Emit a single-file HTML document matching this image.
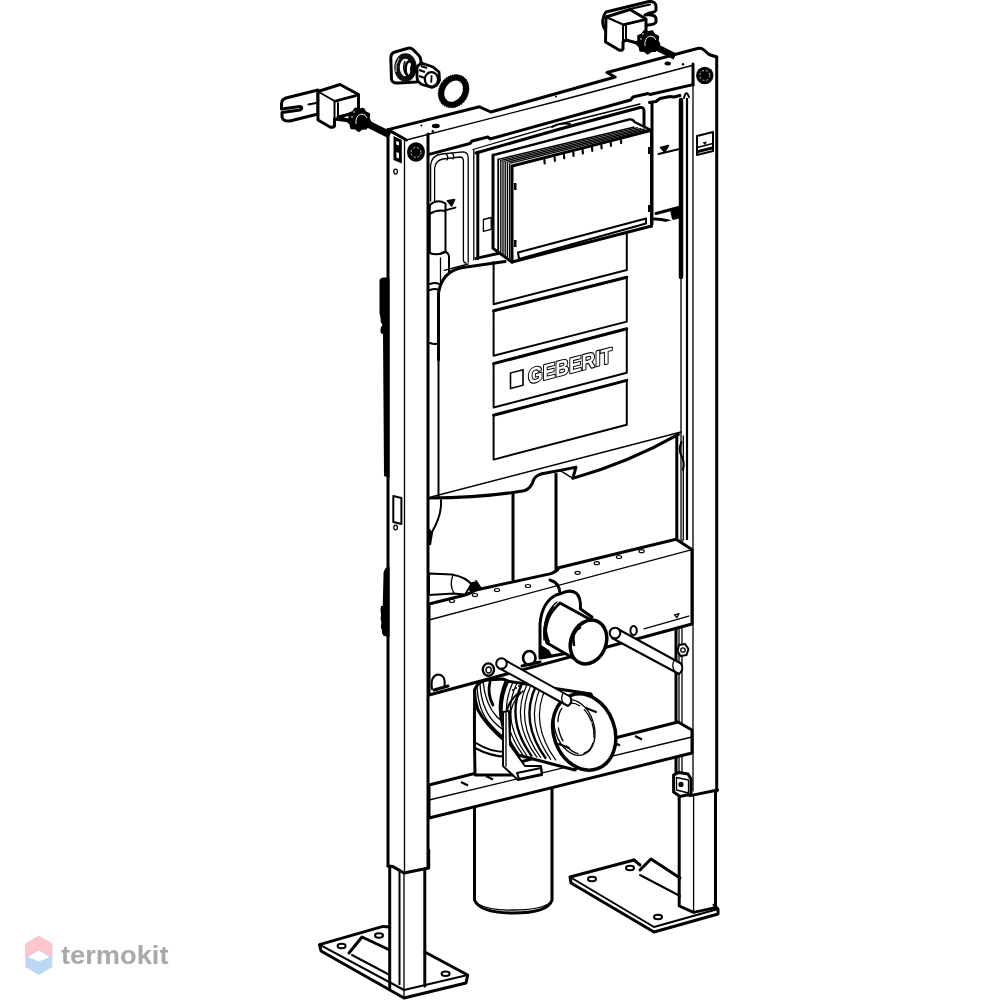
<!DOCTYPE html>
<html><head><meta charset="utf-8">
<style>
html,body{margin:0;padding:0;background:#fff;width:1000px;height:1000px;overflow:hidden}
svg{display:block;will-change:transform}
.k{stroke:#000;fill:none;stroke-linejoin:round;stroke-linecap:round}
.w{stroke:#000;fill:#fff;stroke-linejoin:round;stroke-linecap:round}
.t{stroke-width:1.3}
.m{stroke-width:2}
.b{stroke-width:3}
</style></head>
<body>
<svg width="1000" height="1000" viewBox="0 0 1000 1000">
<g opacity="0.995">
<polygon points="38.8,935.8 52.3,943.5 52.3,967 38.8,974.9 25.3,967 25.3,943.5" fill="#bcd6f6"/>
<polygon points="38.8,935.8 52.3,943.5 52.3,957 38.8,950.6 25.3,957 25.3,943.5" fill="#fcc6cc"/>
<polygon points="38.8,950.6 49.6,957 38.8,961.5 28,957" fill="#fff"/>
<text x="61" y="963.8" font-family="Liberation Sans" font-weight="bold" font-size="25.5" fill="#a9a9a9" textLength="107.5" lengthAdjust="spacingAndGlyphs">termokit</text>
</g>
<!-- left slotted plate -->
<path class="w b" d="M318,90 L286,98 Q281.5,99.5 281.5,104 L281.5,109 L300,106.5 Q303.5,107.5 300,110 L282,112.5 L282,117 Q283,121.5 290,121 L318,114 Z"/>
<path class="k m" d="M308.5,104.5 L316,103"/>
<!-- left clip box -->
<path class="w b" d="M318,91.5 L340,84.5 L358.5,94.5 L358.5,112 L338,117 L350,121 L334.5,119 L334.5,126 Q333,128 330,127 L318,120 Z"/>
<path class="k m" d="M318,91.5 L334.5,101 L358.5,94.5 M334.5,101 L334.5,126 M338,103 L338,117 L352,121.5 M335,101.5 L356,96"/>
<!-- left nut -->
<path fill="#000" stroke="#000" stroke-width="2.5" stroke-linejoin="round" d="M370.1,121.7 L367.1,124.5 L366.0,128.3 L362.0,128.5 L358.7,130.8 L355.5,128.3 L351.5,128.0 L350.7,124.0 L347.8,121.2 L349.7,117.6 L349.4,113.6 L353.1,112.1 L355.4,108.8 L359.2,110.0 L363.1,109.0 L365.3,112.4 L368.9,114.1 L368.4,118.1 Z"/>
<path d="M356,124 Q355,116 361,114 Q366,114 367,118" fill="none" stroke="#fff" stroke-width="0.9"/>
<circle cx="352" cy="117" r="0.8" fill="#fff"/><circle cx="354" cy="112" r="0.8" fill="#fff"/>
<!-- right plate -->
<path class="w b" d="M606,12 L649,1.5 Q656,1 656,7 L656,10 Q655,12.5 649,13 L645,15 Q656,14 656,19 L656,22 Q655,24.5 648,25 L636,28 L606,31 Q601.5,25 603,19 Q604,14 606,12 Z"/>
<path class="k m" d="M630,9 L650,4.5"/>
<!-- right clip box -->
<path class="w b" d="M606,17 L630,9.5 L646,19 L646,31 L637,43 L626,40 L623,42 L623,49 Q622,51 619,50 L605.5,42 Z"/>
<path class="k m" d="M606,17 L623,24.5 L646,19 M623,24.5 L623,49 M626,26 L626,40 L637,43 M624,25 L645,20"/>
<!-- right nut -->
<path fill="#000" stroke="#000" stroke-width="2.5" stroke-linejoin="round" d="M659.1,44.2 L656.1,47.0 L655.0,50.8 L651.0,51.0 L647.7,53.3 L644.5,50.8 L640.5,50.5 L639.7,46.5 L636.8,43.7 L638.7,40.1 L638.4,36.1 L642.1,34.6 L644.4,31.3 L648.2,32.5 L652.1,31.5 L654.3,34.9 L657.9,36.6 L657.4,40.6 Z"/>
<path d="M645,46 Q644,38 650,36 Q655,36 656,40" fill="none" stroke="#fff" stroke-width="0.9"/>
<circle cx="641" cy="39" r="0.8" fill="#fff"/><circle cx="643" cy="34" r="0.8" fill="#fff"/>
<!-- knob -->
<path fill="#fff" stroke="#000" stroke-width="3" stroke-linejoin="round" d="M390.8,58 Q390.8,53 395,52 L408,48.3 Q411,47.6 413,49.5 L418.5,55 Q421,57.5 421,61 L420.5,76 Q420,81 416,82 L398,83 Q393,83.5 391.5,80 Z"/>
<ellipse cx="405.5" cy="67.5" rx="8.5" ry="11.5" fill="#fff" stroke="#111" stroke-width="5.5"/>
<path d="M396,72 Q395,64 399,58" fill="none" stroke="#fff" stroke-width="0.8"/>
<ellipse cx="410" cy="69" rx="4.5" ry="8" fill="none" stroke="#000" stroke-width="2.5"/>
<path d="M413,63 Q409,69 413,76" fill="none" stroke="#000" stroke-width="2"/>
<path d="M405,61 Q402,68 406,75" fill="none" stroke="#000" stroke-width="1.5"/>
<path fill="#fff" stroke="#000" stroke-width="2.8" stroke-linejoin="round" d="M417,68 Q418,64 423,63.5 L433,67 L439,72 L439.5,80 Q438,86 432,87.5 L422,84.5 Q417,82 417,77 Z"/>
<path d="M419,70 L425,72 M419,76 L425,78 M421,66 L427,68" fill="none" stroke="#000" stroke-width="2.2"/>
<ellipse cx="431.4" cy="79.3" rx="6.6" ry="7.2" fill="#fff" stroke="#000" stroke-width="2.2"/>
<line x1="431.6" y1="75.3" x2="431.2" y2="82.6" stroke="#000" stroke-width="1.8"/>
<!-- ring -->
<ellipse cx="453.6" cy="91.2" rx="11.6" ry="14.3" transform="rotate(32 453.6 91.2)" fill="none" stroke="#000" stroke-width="6"/>
<ellipse cx="453.6" cy="91.2" rx="14.6" ry="17.3" transform="rotate(32 453.6 91.2)" fill="none" stroke="#000" stroke-width="1" stroke-dasharray="1 1.2"/>
<!-- threaded rods -->
<line x1="361" y1="120.5" x2="390" y2="135" stroke="#000" stroke-width="7"/>
<line x1="650" y1="44" x2="675" y2="56.5" stroke="#000" stroke-width="6.5"/>
<!-- ===== top crossbar ===== -->
<path class="k b" d="M388,129.6 L479.6,106.8 L490.8,112 L615.2,77 L607,72.5 L698.5,48.2 Q702,48 704,50 L709,54.5 L716.7,57"/>
<path class="k b" d="M388,129.6 L406.4,140"/>
<path class="k t" d="M406.4,140 L560,100.5 L692,65.5"/>
<ellipse cx="435.8" cy="126" rx="4" ry="2.2" fill="#000"/>
<circle cx="432.8" cy="131.4" r="1.3" fill="#000"/>
<circle cx="421.4" cy="125.4" r="1" fill="#000"/>
<ellipse cx="667.7" cy="63.6" rx="3.2" ry="2" fill="#000"/>
<circle cx="683" cy="64.3" r="1.2" fill="#000"/>
<circle cx="556" cy="96.5" r="1" fill="#000"/>
<!-- crossbar front-face bottom edge w/ tab -->
<path class="k b" d="M429,154.4 L470,143.5 L472,141 L488,137 L490,139 L630.6,100 L633,97 L648,93.5 L650,94.5 L693,84.6"/>
<!-- frame strip under crossbar -->
<path class="k t" d="M473,149.5 L560,124 L640,104"/>
<path class="k b" d="M476,153 L560,129 L640,107.5 Q644,107 644,111 L644,130"/>
<path class="k m" d="M552,127 Q560,122 570,124"/>
<!-- left compartment -->
<path class="k t" d="M430.6,201 L430.6,165 Q432,155 442,154 L463,151.8 Q468.2,152 468.2,158 L468.2,262"/>
<path class="k t" d="M434.6,201 L434.6,168 Q436,160 443,159 L460,157 Q463.4,157 463.4,161 L463.4,260 Q463.5,263 466,263"/>
<path class="k t" d="M446,153.5 Q449,157 447,160 M452,153 Q455,156 453,159"/>
<path class="w m" d="M429.8,205 Q437,198.5 445.5,203.5 L445.5,252 Q437,256 429.8,253 Z"/>
<path class="k m" d="M429.8,214 Q437,209 445.5,211"/>
<path class="k m" d="M440,254 Q447,249 449,256 L449,279"/>
<path class="k t" d="M440.5,258 L440.5,283"/>
<path fill="#000" stroke="#000" stroke-width="1.5" stroke-linejoin="round" d="M447.4,200.8 L454.6,199.6 L451.6,206 Z"/>
<path class="k m" d="M445,210.4 L455.4,207.6"/>
<!-- cistern opening frame -->
<path class="k t" d="M473.8,150 L473.8,260"/>
<path class="k b" d="M477.8,152 L477.8,258.4"/>
<path class="k b" d="M476,258.4 L505,252"/>
<path class="k t" d="M483.4,219.5 L491.2,217.5 L491.2,229.3 L483.4,231.3 Z"/>
<!-- right compartment -->
<path class="w b" d="M652,104 L652,226 M649.5,102.5 L656,101.5 L660,98.5 L670,96.5 L674,97 L680,95.5"/>
<path class="k b" d="M656,213.5 L679.7,207.2 M654.5,219 Q668,219 680,226"/><path fill="#000" d="M670,210 L680,207 L680,226 L672,219 Z"/>
<path class="k m" d="M658.5,154 L679.5,149"/>
<path fill="#000" stroke="#000" stroke-width="1.5" stroke-linejoin="round" d="M660.5,147.4 L668.5,145.6 L664.5,152 Z"/>

<!-- tank body -->
<path fill="#fff" d="M438.5,497 L438.5,293 Q442,271 463,267.5 L505,261.6 L681,218 L681,432 L436,497 Z"/>
<path class="k b" d="M438.5,360 L438.5,293 Q442,271 463,267.5 L505,261.6"/>
<path class="k m" d="M438.5,360 L438.5,497"/>
<path class="k m" d="M430,284 Q435,282 439,284 M430,290 Q435,288 439,290 M430,343 Q435,345 439,343"/>
<path class="k t" d="M444.2,270.4 L468.2,264"/>
<!-- service box -->
<path fill="#fff" d="M493.4,155 L629.4,119.4 L651.5,130.4 L651.5,226 L512,262 L494,248 Z"/>
<g stroke="#000" stroke-width="1.35">
<line x1="498.5" y1="159.3" x2="634.5" y2="127.0"/>
<line x1="501.2" y1="160.3" x2="637.9" y2="127.7"/>
<line x1="503.9" y1="161.3" x2="641.3" y2="128.4"/>
<line x1="506.6" y1="162.4" x2="644.7" y2="129.0"/>
<line x1="509.3" y1="163.4" x2="648.1" y2="129.7"/>
<line x1="498.2" y1="158.5" x2="498.2" y2="251" stroke-width="1.8"/>
<line x1="500.8" y1="160" x2="500.8" y2="252.5"/>
<line x1="503" y1="161" x2="503" y2="254"/>
<line x1="505.2" y1="162" x2="505.2" y2="255.5"/>
<line x1="507.4" y1="163" x2="507.4" y2="257"/>
<line x1="509.6" y1="164" x2="509.6" y2="258.5"/>
</g>
<path class="k m" d="M493.4,155 L629.4,119.4 Q633,119 634.5,122 L651.5,130.4" style="stroke-width:2.4"/>
<path class="k b" d="M493,155 L493,248.4 L512,262"/>
<path class="k b" d="M512,166 L651.5,130.4 L651.5,226 M512,166 L512,262"/>
<path class="k m" d="M518,252.5 L646,218.5 L646,223.5 L519,259 Z"/>
<path class="k b" d="M512,262 L651.5,226"/>
<g stroke="#000" stroke-width="2.2" stroke-linecap="round">
<line x1="544.4" y1="160.0" x2="544.7" y2="163.5"/>
<line x1="554.6" y1="157.3" x2="554.9" y2="160.8"/>
<line x1="564.0" y1="154.8" x2="564.2" y2="158.3"/>
<line x1="573.3" y1="152.3" x2="573.6" y2="155.8"/>
<line x1="582.6" y1="149.9" x2="582.9" y2="153.4"/>
<line x1="592.0" y1="147.4" x2="592.3" y2="150.9"/>
<line x1="601.4" y1="144.9" x2="601.6" y2="148.4"/>
<line x1="610.7" y1="142.4" x2="611.0" y2="145.9"/>
<line x1="620.9" y1="139.8" x2="621.2" y2="143.2"/>
</g>
<path fill="#000" d="M514,183 h2.5 v7 h-2.5 Z M514,240 h2.5 v7 h-2.5 Z M648,147 h2.5 v7 h-2.5 Z M648,205 h2.5 v7 h-2.5 Z"/>
<!-- panels -->
<path class="k m" d="M493.6,262 L493.6,304.3 L626.8,270 L626.8,234"/>
<path class="w m" d="M493.6,310.8 L626.8,277.2 L626.8,321.6 L493.6,355.7 Z"/>
<path class="w m" d="M493.6,363.6 L626.8,328.8 L626.8,372.7 L493.6,407.5 Z"/>
<path class="w m" d="M493.6,415.2 L626.8,380.4 L626.8,424.8 L493.6,459.6 Z"/>
<path class="k b" d="M493.6,310.8 L626.8,277.2 M493.6,363.6 L626.8,328.8 M493.6,415.2 L626.8,380.4"/>
<g transform="translate(510.5,388.5) skewY(-14.5)" opacity="0.995">
<rect x="0" y="-15.5" width="12.5" height="15.5" fill="#fff" stroke="#000" stroke-width="1.6"/>
<text x="17.5" y="0" font-family="Liberation Sans" font-weight="bold" font-size="21.5" fill="#000" stroke="#000" stroke-width="2.2" stroke-linejoin="round" textLength="84" lengthAdjust="spacingAndGlyphs">GEBERIT</text><text x="17.5" y="0" font-family="Liberation Sans" font-weight="bold" font-size="21.5" fill="#fff" textLength="84" lengthAdjust="spacingAndGlyphs">GEBERIT</text>
</g>
<!-- tank bottom -->
<path class="k t" d="M431,497 L681,432"/>
<path class="k b" d="M430,498 Q480,498 524,490.8 Q531,489 534,479 Q537,474 546,473 L560,470.4 L576,467.2 L572.8,478.4 Q630,462 678.4,434.4"/>
<path class="k t" d="M560,470.4 L572.8,478.4"/>
<!-- right side of tank -->
<path d="M681,100 L681,277" stroke="#000" stroke-width="4.5" stroke-linecap="round"/>
<path class="k t" d="M681,277 L681,540"/>
<path class="k t" d="M683.3,436 L683.3,540"/>
<path d="M687,98 L687,540" stroke="#000" stroke-width="2.2"/>
<path class="k m" d="M684,98 Q686,89 689,97"/>
<path class="k b" d="M676.8,436 L676.8,540"/>
<path class="k m" d="M681.5,442 Q678,450 681.5,456 Q685,462 683,470"/>
<!-- vertical drain pipe behind (between tank and middle crossbar) -->
<path class="k b" d="M513,494 L513,580"/>
<path class="k b" d="M556,474 L556,574"/>
<!-- hoses left -->
<path class="k m" d="M441,500 Q442,515 432,532"/>
<path fill="#000" d="M429,528 L433,533 L431,545 L429,545 Z"/>
<path class="w m" d="M429,573.6 L452,574.5 Q466,577 472,585 L476,590 L470,595 L453.6,593.4 L429,595 Z"/>
<path class="k t" d="M453,575 Q449,585 454,593"/>
<path fill="#000" d="M469,589 Q470,582 474,581.5 Q478,582 479.5,587 L478,590 Q474,592 470,592 Z"/><path class="k m" d="M466,593 L472,583 M476,581 L482,590"/>
<!-- right upright side face -->
<path class="k b" d="M676,540 L676,775"/>
<path class="k t" d="M679,540 L679,775"/>
<path class="k t" d="M682,540 L682,775"/>
<!-- middle crossbar -->
<path class="w b" d="M429,604 L457,597 Q468,595 476,590 L551,573.6 Q560,570 557.6,568 L676,539.2 L692,549.6 L692,624 L607,647 L429,695 Z"/>
<path class="k t" d="M429,620 L692,549.6"/>
<g fill="none" stroke="#000" stroke-width="1.2">
<ellipse cx="452" cy="601" rx="2.6" ry="1.5"/><ellipse cx="475" cy="595" rx="2.6" ry="1.5"/>
<ellipse cx="497" cy="590" rx="2.6" ry="1.5"/><ellipse cx="528" cy="586" rx="2.6" ry="1.5"/>
<ellipse cx="577.6" cy="572.8" rx="2.6" ry="1.5"/><ellipse cx="596.8" cy="563.2" rx="2.6" ry="1.5"/>
<ellipse cx="619" cy="557" rx="2.6" ry="1.5"/><ellipse cx="641.6" cy="551.2" rx="2.6" ry="1.5"/>
</g>
<path class="k t" d="M644,628.8 L688.8,616"/>
<path class="k t" d="M674.5,614.8 L679,613.6 L676.8,617.6 Z"/>
<path class="w m" d="M432,689 Q430,676 438,674.5 Q446,675 444.5,686"/>
<path class="k b" d="M434,690 L448,686"/>
<!-- lower drain pipe -->
<path class="w b" d="M474.5,780 L474.5,900 Q480,913 513,913 Q548,913 552,900 L552,770"/>
<path class="k t" d="M476,903 Q490,911 513,910 Q540,910 550,903"/>
<!-- lower crossbar -->
<path class="w b" d="M429,785 L678,722 L692,730 L692,753 L429,818 Z"/>
<path class="k t" d="M429,800 L692,737"/>
<g stroke="#000" stroke-width="1.6">
<line x1="461" y1="782" x2="468" y2="785.5" stroke-width="2.2"/><line x1="486" y1="776" x2="493" y2="779.5" stroke-width="2.2"/>
<line x1="613" y1="742" x2="620" y2="745.5" stroke-width="2.2"/><line x1="635" y1="736" x2="642" y2="739.5" stroke-width="2.2"/>
</g>

<!-- ===== flush spigot ===== -->
<path class="k b" d="M550,580 Q560,583 560,594"/>
<path class="w b" d="M540,658 L540,624 Q542,602 556,595 L561,593.5 Q570,589 576,593 Q581,597 580.5,609 L592,617 L568,653 L541,658 Z"/>
<path fill="#000" d="M541,645 L549,650 L553,657 L541,659 Z"/>
<path class="w b" d="M560,603 L593,621 L573,658 L547,643 Q539,622 560,603 Z"/>
<path class="k t" d="M544,640 Q542,614 557,602 M546,641 Q545,617 558,605"/><path class="k m" d="M549,642 Q541,622 553,607"/>
<ellipse cx="588.5" cy="642" rx="17.5" ry="22.5" transform="rotate(22 588.5 642)" class="w b" style="stroke-width:3.5"/>
<path d="M580,627.5 Q571,632 574,645" fill="none" stroke="#000" stroke-width="2.6" stroke-linecap="round"/>
<!-- rod right -->
<path class="w m" d="M616,628 L681,663.5 Q684.5,669.5 679,674 L612,638 Z"/>
<circle cx="615" cy="633" r="5.3" class="w m"/>
<path class="k t" d="M674,660.5 Q671,666.5 675,671.5"/>
<ellipse cx="633.6" cy="630.4" rx="3.2" ry="4.5" class="k m"/>
<path class="w m" d="M679,645 L685,644 L688.5,649 L686.5,655 L680.5,656 L677.5,651 Z"/><circle cx="683" cy="650" r="2.2" class="k t"/>
<!-- ===== drain connector ===== -->
<!-- elbow down pipe -->
<path class="w b" d="M474.8,690 Q474,720 475,775 L514,775 L514,700 Z"/>
<path class="k m" d="M476,743 Q490,752 506,752 M476,748.5 Q492,757 508,756.5"/>
<!-- elbow flange arcs -->
<path class="w b" d="M474.5,690 Q478,681 487,680 L503,679 L530,690 L530,752 Q518,752 505,741 Q486,725 478,710 Q474.5,700 474.5,690 Z"/>
<path class="k t" d="M477,686 Q478,712 492,726 Q500,735 506,738"/>
<path class="k t" d="M480,683 Q481,708 494,722 Q501,729 506,731"/>
<path class="k t" d="M483,681 Q485,704 497,717 Q502,722 507,724"/>
<path d="M490,682 Q487,694 493,705" fill="none" stroke="#000" stroke-width="2.8" stroke-linecap="round"/>
<!-- coupling rings + cylinder body -->
<path class="w b" d="M506,681 L591,694 L608,735 L575,770 L518,755 Q490,718 506,681 Z"/>
<path d="M508,681.3 Q491,717.3 518,754.3" fill="none" stroke="#000" stroke-width="2.6"/>
<path d="M513,682.1 Q496,718.1 523,755.1" fill="none" stroke="#000" stroke-width="1.2"/>
<path d="M517,682.8 Q500,718.8 527,755.8" fill="none" stroke="#000" stroke-width="1.2"/>
<path d="M522,683.6 Q505,719.6 532,756.6" fill="none" stroke="#000" stroke-width="2.4"/>
<path d="M527,684.4 Q510,720.4 537,757.4" fill="none" stroke="#000" stroke-width="1.2"/>
<path d="M531,685.0 Q514,721.0 541,758.0" fill="none" stroke="#000" stroke-width="1.2"/>
<path d="M536,685.8 Q519,721.8 546,758.8" fill="none" stroke="#000" stroke-width="2.4"/>
<path d="M541,686.6 Q524,722.6 551,759.6" fill="none" stroke="#000" stroke-width="1.2"/>
<path d="M546,687.4 Q529,723.4 556,760.4" fill="none" stroke="#000" stroke-width="1.2"/>
<path class="k m" d="M520,692 Q510,699 507,710 L506,737"/>
<path class="k t" d="M523,691 Q514,699 511,710 L510,737"/>
<g fill="#000"><circle cx="516" cy="688" r="1"/><circle cx="519" cy="686" r="1"/><circle cx="513" cy="690" r="1"/></g>
<ellipse cx="584.2" cy="732" rx="30.5" ry="39" transform="rotate(-20 584.2 732)" class="w b" style="stroke-width:3.5"/>
<ellipse cx="574.5" cy="727.5" rx="19.5" ry="28.5" transform="rotate(-18 574.5 727.5)" class="k t"/>
<ellipse cx="576" cy="728.5" rx="17" ry="26" transform="rotate(-18 576 728.5)" class="k t" stroke-dasharray="14 6"/>
<path class="k m" d="M586,708 L596,712 M559,744 L569,748"/>
<!-- clamp -->
<path class="w m" d="M503,712 L509,711 L510,745 L525,766 L541,766 L542,775 L518,780 L503,766 Z"/>
<path class="k t" d="M506,713 L506,766"/>
<path class="k m" d="M517,773 L541,768 L542,774 L519,779 Z"/>
<!-- rod left -->
<path class="w m" d="M503,659 L570,696.5 Q573.5,702.5 568,706 L499,668 Z"/>
<circle cx="501.5" cy="663.5" r="5.3" class="w m"/>
<path class="k t" d="M563,693 Q560,699 564,704"/>
<ellipse cx="488.4" cy="669.6" rx="5.6" ry="6.2" class="w m" style="stroke-width:2.4"/><ellipse cx="488.6" cy="670" rx="2.6" ry="3" class="k t"/>
<ellipse cx="529.3" cy="658" rx="6.2" ry="7" class="w m" style="stroke-width:2.6"/><path class="k b" d="M522,666 L540,662"/>
<!-- ===== left upright ===== -->
<path class="k b" d="M388,129.6 L388,866"/>
<path class="k t" d="M404.5,139.2 L404.5,873"/>
<path class="k b" d="M428,134 L428,868"/>
<path fill="#000" d="M393.5,136 L401.8,140 L401.8,163.5 L393.5,160 Z"/><path fill="#fff" d="M396.2,141 L399,142 L399,145.5 L396.2,144.5 Z M396.4,152 L399,153 L399,158.5 L396.4,157.5 Z"/>
<ellipse cx="395.6" cy="171.6" rx="1.8" ry="2.5" class="k t"/>
<ellipse cx="416" cy="152" rx="9" ry="9.8" fill="#000"/>
<circle cx="416" cy="152.4" r="5" fill="none" stroke="#fff" stroke-width="0.8" stroke-dasharray="2 2"/>
<path class="k m" d="M393.3,496 L401.4,498 L401.4,524 L393.3,522 Z"/>
<ellipse cx="395.6" cy="527.5" rx="1.8" ry="2.4" class="k t"/>
<!-- clips on left side -->
<path fill="#000" d="M379.5,281 Q379.5,277.5 384,277.5 L389.5,277.5 L389.5,478 L384,476 L383,334 Q380,334 380.5,330 Q380,327 382.5,325 Q380,322 380.5,318 Q380,315 379.5,313 Z"/>
<path fill="#000" d="M383.6,572 Q385,568 387,567 L389.5,567 L389.5,637 L384,636 Q381.5,634 382,630 Q380,627 381.5,623 Q380,619 381,615 Q380,610 381,606 L382.7,606 Z"/>
<!-- telescopic joint left -->
<path class="k b" d="M388,866 L393,866.6 L404,873 L428.7,868 L428.7,850"/>
<path class="k b" d="M389.7,868 L389.7,989"/>
<path d="M399.5,869 L399.5,985" stroke="#000" stroke-width="2"/>
<path class="k t" d="M404,873 L404,990"/>
<path class="k b" d="M424.8,869 L424.8,986"/>
<!-- left foot -->
<path class="k b" d="M389.7,927 L383,926.4 L319.5,944.6 L321,951 L404,998 L466,983 L467.7,975 L424.8,952"/>
<path class="k m" d="M319.5,944.6 L404,990 L467.7,975"/>
<path class="k t" d="M404,990 L404,998"/>
<ellipse cx="341.6" cy="946" rx="4" ry="2.2" class="k m"/>
<ellipse cx="379" cy="935.5" rx="4" ry="2.2" class="k m"/>
<ellipse cx="445.6" cy="973.7" rx="4" ry="2.2" class="k m"/>
<path class="k b" d="M349,953 L362,937 L389.7,950"/>
<path class="k m" d="M352,955 L389.7,975"/>
<!-- ===== right upright ===== -->
<path class="k b" d="M693,64 L693,85"/>
<path class="k t" d="M693,85 L693,791"/>
<path class="k b" d="M716.7,57 L716.7,791"/>
<circle cx="704.8" cy="75.5" r="8.7" fill="#000"/>
<circle cx="704.8" cy="75.5" r="5" fill="none" stroke="#fff" stroke-width="0.8" stroke-dasharray="2 2"/>
<path class="k m" d="M697,136 L713,132 L713,151 L697,155 Z"/>
<path class="k t" d="M697,147.5 L713,143.5"/>
<path fill="#000" d="M698,150 L712,146.5 L712,149.5 L698,153 Z"/>
<path fill="#000" d="M702.5,142.5 L707,141.5 L705,145 Z"/>
<path class="k b" d="M674.4,790.8 L690.4,795.6 L717.6,790"/>
<path class="k b" d="M679.2,794 L679.2,906 L693.6,912.4 L715.5,907.6 L715.5,791"/>
<path class="k t" d="M693.6,796 L693.6,912"/>
<!-- right side face of upright -->
<path class="w b" d="M673.6,775 L679,772.4 L688,774 L691,779 L691,794 L680,796.5 L673.6,792 Z"/>
<path class="k t" d="M676.5,777.5 L688.5,780 L688.5,793 L676.5,790 Z"/>
<circle cx="681" cy="784.4" r="2.6" fill="#000"/>
<!-- right foot -->
<path class="k b" d="M680,878 L651,859 L640,870 M634,860 L570,877 L571,883 L654,932 L718,914 L718,909 L714,905"/>
<path class="k m" d="M570,877 L654,927 L718,909"/>
<ellipse cx="592" cy="879" rx="4" ry="2.2" class="k m"/>
<ellipse cx="630" cy="868" rx="4" ry="2.2" class="k m"/>
<ellipse cx="658" cy="917" rx="4" ry="2.2" class="k m"/>
<path class="k m" d="M640,875 L680,896"/>
<path class="k b" d="M634,860 L640,865"/>
</svg></body></html>
